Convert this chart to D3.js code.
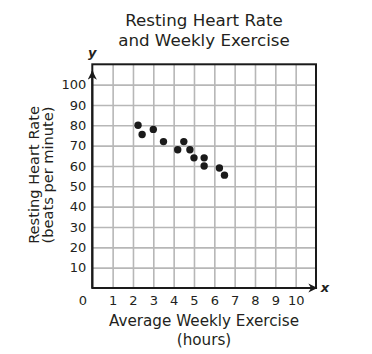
<!DOCTYPE html>
<html>
<head>
<meta charset="utf-8">
<script src="https://cdn.jsdelivr.net/npm/d3@7"></script>
<style>
  body { margin: 0; background: #fff; }
  svg { font-family: "DejaVu Sans", Verdana, sans-serif; }
</style>
</head>
<body>
<div id="chart"></div>
<script>
// Data
var exercise = [2.25, 2.45, 3.0, 3.5, 4.2, 4.5, 4.8, 5.0, 5.5, 5.5, 6.25, 6.5];
var heartRate = [80, 75.5, 78, 72, 68, 72, 68, 64, 64, 60, 59, 55.5];
var xTicks = [1, 2, 3, 4, 5, 6, 7, 8, 9, 10];
var yTicks = [10, 20, 30, 40, 50, 60, 70, 80, 90, 100];

var svgWidth = 372;
var svgHeight = 354;

// plot box
var margin = { top: 64.3, left: 92.3, right: 56, bottom: 66 };
var chartWidth = svgWidth - margin.left - margin.right;
var chartHeight = svgHeight - margin.top - margin.bottom;

var textColor = "#231f20";

var svg = d3.select("#chart")
    .append("svg")
    .attr("width", svgWidth)
    .attr("height", svgHeight);

var chartGroup = svg.append("g")
    .attr("transform", `translate(${margin.left}, ${margin.top})`);

var xScale = d3.scaleLinear().domain([0, 11]).range([0, chartWidth]);
var yScale = d3.scaleLinear().domain([0, 110]).range([chartHeight, 0]);

// Grid lines
var xGrid = chartGroup.append("g")
    .attr("transform", `translate(0, ${chartHeight})`)
    .call(d3.axisBottom(xScale).tickValues(xTicks).tickSize(-chartHeight).tickFormat(""));
var yGrid = chartGroup.append("g")
    .call(d3.axisLeft(yScale).tickValues(yTicks).tickSize(-chartWidth).tickFormat(""));
[xGrid, yGrid].forEach(function(g) {
    g.select(".domain").remove();
    g.selectAll("line").attr("stroke", "#b7b7b7").attr("stroke-width", 1.6);
});

// Frame
chartGroup.append("rect")
    .attr("x", 0)
    .attr("y", 0)
    .attr("width", chartWidth)
    .attr("height", chartHeight)
    .attr("fill", "none")
    .attr("stroke", "#1a1a1a")
    .attr("stroke-width", 2);

// Arrow heads on the axes
var defs = svg.append("defs");
defs.append("marker")
    .attr("id", "arrow")
    .attr("viewBox", "0 0 10 10")
    .attr("refX", 9)
    .attr("refY", 5)
    .attr("markerWidth", 4.6)
    .attr("markerHeight", 4.6)
    .attr("markerUnits", "strokeWidth")
    .attr("orient", "auto")
    .append("path")
    .attr("d", "M0,0 L10,5 L0,10 L3,5 Z")
    .attr("fill", "#1a1a1a");

chartGroup.append("line")
    .attr("x1", xScale(0)).attr("y1", yScale(0))
    .attr("x2", xScale(0)).attr("y2", yScale(106.5))
    .attr("stroke", "#1a1a1a")
    .attr("stroke-width", 2)
    .attr("marker-end", "url(#arrow)");

chartGroup.append("line")
    .attr("x1", xScale(0)).attr("y1", yScale(0))
    .attr("x2", xScale(11.03)).attr("y2", yScale(0))
    .attr("stroke", "#1a1a1a")
    .attr("stroke-width", 2)
    .attr("marker-end", "url(#arrow)");

// Tick labels
var xAxis = chartGroup.append("g")
    .attr("transform", `translate(0, ${chartHeight})`)
    .call(d3.axisBottom(xScale).tickValues(xTicks).tickSize(0).tickPadding(8));
var yAxis = chartGroup.append("g")
    .call(d3.axisLeft(yScale).tickValues(yTicks).tickSize(0).tickPadding(6));
[xAxis, yAxis].forEach(function(g) {
    g.select(".domain").remove();
    g.selectAll("text")
        .attr("fill", textColor)
        .style("font-size", "13px")
        .style("font-family", "DejaVu Sans, Verdana, sans-serif");
});

// origin 0
chartGroup.append("text")
    .attr("x", -9.5)
    .attr("y", chartHeight + 17)
    .attr("text-anchor", "middle")
    .attr("fill", textColor)
    .style("font-size", "13px")
    .text("0");

// axis letters
chartGroup.append("text")
    .attr("x", 0)
    .attr("y", -7)
    .attr("text-anchor", "middle")
    .attr("fill", textColor)
    .style("font-size", "13px")
    .style("font-weight", "bold")
    .style("font-style", "italic")
    .text("y");

chartGroup.append("text")
    .attr("x", chartWidth + 9)
    .attr("y", chartHeight + 4.5)
    .attr("text-anchor", "middle")
    .attr("fill", textColor)
    .style("font-size", "13px")
    .style("font-weight", "bold")
    .style("font-style", "italic")
    .text("x");

// Points
chartGroup.selectAll("circle")
    .data(exercise)
    .enter()
    .append("circle")
    .attr("cx", (d, i) => xScale(d))
    .attr("cy", (d, i) => yScale(heartRate[i]))
    .attr("r", 3.7)
    .attr("fill", "#1a1a1a");

// Title
var title = svg.append("text")
    .attr("text-anchor", "middle")
    .attr("fill", textColor)
    .style("font-size", "16.7px");
title.append("tspan").attr("x", 204).attr("y", 25.5).text("Resting Heart Rate");
title.append("tspan").attr("x", 204).attr("y", 46).text("and Weekly Exercise");

// X axis label
var xLabel = svg.append("text")
    .attr("text-anchor", "middle")
    .attr("fill", textColor)
    .style("font-size", "15.2px");
xLabel.append("tspan").attr("x", 204).attr("y", 326).text("Average Weekly Exercise");
xLabel.append("tspan").attr("x", 204).attr("y", 344.5).text("(hours)");

// Y axis label
var yLabel = svg.append("text")
    .attr("transform", "translate(39, 175) rotate(-90)")
    .attr("text-anchor", "middle")
    .attr("fill", textColor)
    .style("font-size", "14.6px");
yLabel.append("tspan").attr("x", 0).attr("y", 0).text("Resting Heart Rate");
yLabel.append("tspan").attr("x", 0).attr("y", 14).text("(beats per minute)");
</script>
</body>
</html>
